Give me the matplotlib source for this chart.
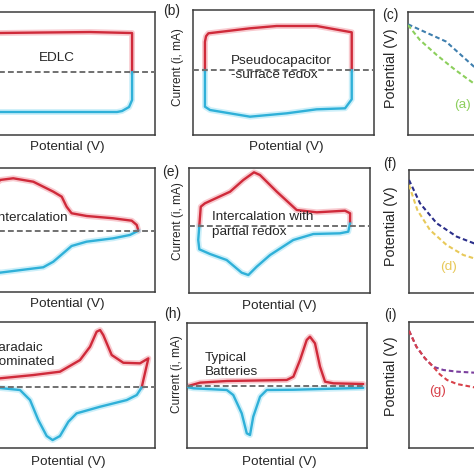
import matplotlib
matplotlib.use('Agg')
import matplotlib.pyplot as plt

plt.rcParams['font.family'] = ['Liberation Sans', 'DejaVu Sans']

# ---------------- data (potential normalised 0-1, current arbitrary units) ----------------
# (a) EDLC
a_ox = [0.067, 0.067, 0.084, 0.112, 0.358, 0.637, 0.872, 0.872]
a_oy = [0.0, 0.55, 0.62, 0.634, 0.642, 0.65, 0.634, 0.0]
a_rx = [0.872, 0.872, 0.855, 0.816, 0.788, 0.134, 0.078, 0.067, 0.067]
a_ry = [0.0, -0.455, -0.569, -0.634, -0.65, -0.65, -0.618, -0.455, 0.0]
# (b) pseudocapacitor - surface redox
b_ox = [0.066, 0.066, 0.072, 0.085, 0.315, 0.462, 0.683, 0.877, 0.877]
b_oy = [0.0, 0.45, 0.54, 0.587, 0.667, 0.704, 0.704, 0.603, 0.0]
b_rx = [0.877, 0.877, 0.840, 0.683, 0.518, 0.315, 0.094, 0.066, 0.066]
b_ry = [0.0, -0.469, -0.613, -0.629, -0.693, -0.747, -0.64, -0.587, 0.0]
# (d) intercalation
d_ox = [0.05, 0.078, 0.134, 0.208, 0.320, 0.432, 0.479, 0.506, 0.534, 0.618, 0.767, 0.870, 0.898, 0.907]
d_oy = [0.0, 0.576, 0.818, 0.845, 0.790, 0.629, 0.548, 0.387, 0.281, 0.237, 0.2, 0.161, 0.092, 0.0]
d_rx = [0.907, 0.860, 0.767, 0.618, 0.534, 0.497, 0.432, 0.376, 0.283, 0.134, 0.067, 0.05]
d_ry = [0.0, -0.069, -0.123, -0.177, -0.247, -0.339, -0.5, -0.59, -0.623, -0.677, -0.6, 0.0]
# (e) intercalation with partial redox
e_ox = [0.057, 0.065, 0.088, 0.227, 0.300, 0.359, 0.392, 0.485, 0.595, 0.706, 0.862, 0.890, 0.890]
e_oy = [0.0, 0.304, 0.358, 0.544, 0.731, 0.854, 0.811, 0.544, 0.251, 0.214, 0.24, 0.198, 0.038]
e_rx = [0.890, 0.880, 0.834, 0.687, 0.576, 0.448, 0.374, 0.328, 0.291, 0.208, 0.116, 0.057, 0.051, 0.057]
e_ry = [0.038, -0.096, -0.122, -0.133, -0.229, -0.469, -0.656, -0.789, -0.752, -0.549, -0.453, -0.378, -0.229, 0.0]
# (g) faradaic dominated
g_ox = [0.050, 0.067, 0.134, 0.320, 0.469, 0.581, 0.637, 0.674, 0.693, 0.711, 0.758, 0.823, 0.916, 0.963, 0.935, 0.926]
g_oy = [0.0, 0.116, 0.143, 0.195, 0.248, 0.433, 0.644, 0.883, 0.910, 0.830, 0.513, 0.390, 0.381, 0.460, 0.116, 0.0]
g_rx = [0.926, 0.898, 0.842, 0.693, 0.562, 0.516, 0.469, 0.428, 0.395, 0.348, 0.302, 0.246, 0.134, 0.05]
g_ry = [0.0, -0.122, -0.202, -0.308, -0.413, -0.546, -0.773, -0.837, -0.773, -0.519, -0.202, -0.043, -0.011, 0.0]
# (h) typical batteries
h_ox = [0.007, 0.072, 0.221, 0.554, 0.591, 0.628, 0.665, 0.683, 0.711, 0.739, 0.767, 0.813, 0.979]
h_oy = [0.0, 0.053, 0.08, 0.096, 0.149, 0.416, 0.736, 0.789, 0.683, 0.309, 0.069, 0.043, 0.032]
h_rx = [0.979, 0.591, 0.443, 0.406, 0.368, 0.350, 0.332, 0.304, 0.257, 0.221, 0.035, 0.007]
h_ry = [-0.03, -0.06, -0.064, -0.171, -0.491, -0.784, -0.757, -0.437, -0.144, -0.064, -0.037, -0.021]

# galvanostatic discharge curves (time normalised, potential normalised)
c_t1 = [0.0, 0.09, 0.21, 0.365, 0.75]
c_v1 = [0.90, 0.84, 0.76, 0.555, 0.20]
c_t2 = [0.0, 0.066, 0.159, 0.250, 0.324, 0.62]
c_v2 = [0.894, 0.772, 0.650, 0.542, 0.461, 0.15]
f_t1 = [0.0, 0.061, 0.153, 0.264, 0.359, 0.55, 0.75]
f_v1 = [0.919, 0.729, 0.567, 0.458, 0.404, 0.35, 0.31]
f_t2 = [0.0, 0.046, 0.116, 0.208, 0.300, 0.359, 0.55]
f_v2 = [0.878, 0.675, 0.512, 0.390, 0.309, 0.282, 0.22]
i_t1 = [0.0, 0.041, 0.088, 0.134, 0.190, 0.264, 0.359, 0.6]
i_v1 = [0.931, 0.804, 0.712, 0.645, 0.619, 0.606, 0.598, 0.585]
i_t2 = [0.0, 0.041, 0.088, 0.134, 0.17, 0.21, 0.264, 0.359, 0.6]
i_v2 = [0.931, 0.804, 0.712, 0.645, 0.585, 0.54, 0.508, 0.482, 0.45]

# ---------------- styling ----------------
W = 474.0
RED, RED_GLOW = '#cf2a3a', '#f08a96'
BLUE, BLUE_GLOW = '#2fb0d8', '#8fdcf2'
SPINE = '#3c3c3c'
TXT = '#262626'
FS = 9.7

fig = plt.figure(figsize=(4.74, 4.74), dpi=100)


def rect(l, r, t, b):
    return [l / W, 1 - b / W, (r - l) / W, (b - t) / W]


def make_ax(l, r, t, b, ylim):
    ax = fig.add_axes(rect(l, r, t, b))
    ax.set_xlim(0, 1)
    ax.set_ylim(*ylim)
    ax.set_xticks([])
    ax.set_yticks([])
    for s in ax.spines.values():
        s.set_color(SPINE)
        s.set_linewidth(1.1)
    return ax


def cv(ax, ox, oy, rx, ry):
    for x, y, c, g in [(ox, oy, RED, RED_GLOW), (rx, ry, BLUE, BLUE_GLOW)]:
        ax.plot(x, y, color=g, lw=4.2, alpha=0.45, solid_joinstyle='round',
                solid_capstyle='round', zorder=2)
        ax.plot(x, y, color=c, lw=1.7, solid_joinstyle='round',
                solid_capstyle='round', zorder=3)
    ax.axhline(0, color='#707070', lw=1.4, ls=(0, (3, 1.6)), zorder=4)


def gcd(ax, t, v, color):
    ax.plot(t, v, color=color, lw=1.5, ls=(0, (2.2, 1.4)), zorder=3)


def ftxt(px, py, s, size=FS, **kw):
    kw.setdefault('color', TXT)
    fig.text(px / W, 1 - py / W, s, fontsize=size, **kw)


# ---------------- row 1 ----------------
ax_a = make_ax(-24, 155, 12, 135, (-1.024, 0.976))
cv(ax_a, a_ox, a_oy, a_rx, a_ry)
ax_a.text(0.453, 0.228, 'EDLC', fontsize=FS, color=TXT, ha='center', va='center')

ax_b = make_ax(193, 374, 10, 135, (-1.04, 0.96))
cv(ax_b, b_ox, b_oy, b_rx, b_ry)
ax_b.text(0.21, 0.027, 'Pseudocapacitor\n-surface redox', fontsize=FS, color=TXT,
          ha='left', va='center', linespacing=1.22)

ax_c = make_ax(408, 589, 12, 135, (0, 1))
gcd(ax_c, c_t1, c_v1, '#3f7fae')
gcd(ax_c, c_t2, c_v2, '#8ccf5c')
ax_c.text(0.30, 0.245, '(a)', fontsize=FS, color='#8ccf5c', ha='center', va='center')

# ---------------- row 2 ----------------
ax_d = make_ax(-24, 155, 168, 292, (-0.989, 1.011))
cv(ax_d, d_ox, d_oy, d_rx, d_ry)
ax_d.text(0.514, 0.205, 'Intercalation', fontsize=FS, color=TXT, ha='right', va='center')

ax_e = make_ax(189, 370, 168, 293, (-1.077, 0.923))
cv(ax_e, e_ox, e_oy, e_rx, e_ry)
ax_e.text(0.125, 0.019, 'Intercalation with\npartial redox', fontsize=FS, color=TXT,
          ha='left', va='center', linespacing=1.3)

ax_f = make_ax(409, 590, 170, 293, (0, 1))
gcd(ax_f, f_t1, f_v1, '#2b2f8a')
gcd(ax_f, f_t2, f_v2, '#e8c95a')
ax_f.text(0.221, 0.211, '(d)', fontsize=FS, color='#e8c95a', ha='center', va='center')

# ---------------- row 3 ----------------
ax_g = make_ax(-24, 155, 322, 448, (-0.963, 1.037))
cv(ax_g, g_ox, g_oy, g_rx, g_ry)
ax_g.text(0.084, 0.513, 'Faradaic\ndominated', fontsize=FS, color=TXT,
          ha='left', va='center', linespacing=1.25)

ax_h = make_ax(187, 367, 323, 448, (-0.992, 1.008))
cv(ax_h, h_ox, h_oy, h_rx, h_ry)
ax_h.text(0.10, 0.341, 'Typical\nBatteries', fontsize=FS, color=TXT,
          ha='left', va='center', linespacing=1.25)

ax_i = make_ax(409, 590, 322, 448, (0, 1))
gcd(ax_i, i_t1, i_v1, '#7b3f9e')
gcd(ax_i, i_t2, i_v2, '#d8414a')
ax_i.text(0.157, 0.452, '(g)', fontsize=FS, color='#d8414a', ha='center', va='center')

# ---------------- axis labels ----------------
for (px, py) in [(67, 147), (286, 147), (67, 304), (279, 306), (68, 462), (279, 462)]:
    ftxt(px, py, 'Potential (V)', ha='center', va='center')
for (px, py) in [(178, 67), (178, 221), (177, 374)]:
    ftxt(px, py, 'Current (i, mA)', size=8.6, rotation=90, ha='center', va='center')
for (px, py) in [(391.5, 68), (391.5, 226), (391.5, 376)]:
    ftxt(px, py, 'Potential (V)', size=10.4, rotation=90, ha='center', va='center')

# panel letters
for (px, py, s) in [(172, 11.5, '(b)'), (390, 15, '(c)'), (171, 172, '(e)'),
                    (390, 164.5, '(f)'), (173, 314, '(h)'), (390, 315, '(i)')]:
    ftxt(px, py, s, size=10, ha='center', va='center')

fig.savefig('out.png', dpi=100)
